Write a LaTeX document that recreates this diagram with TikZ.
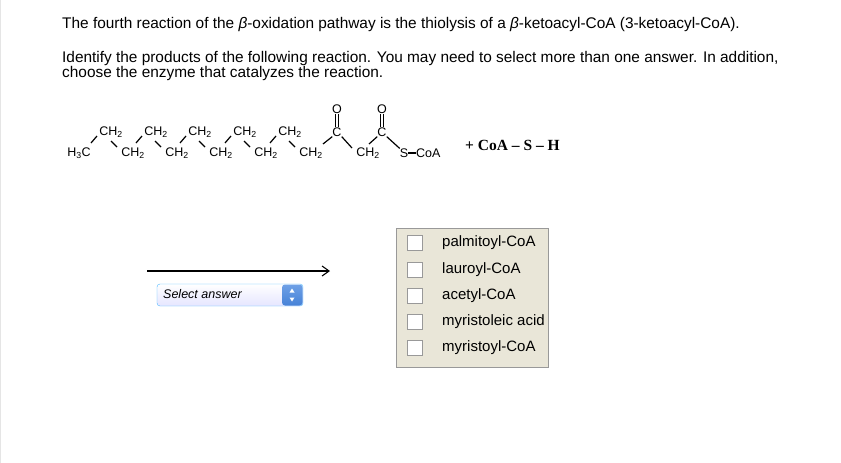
\documentclass[tikz,border=0pt]{standalone}
\usepackage{fontspec}
\usetikzlibrary{arrows.meta}
\setmainfont{Liberation Sans}
\newfontfamily\serifb{Liberation Serif}
\begin{document}
\begin{tikzpicture}[x=1pt,y=-1pt,
  txt/.style={anchor=base west,inner sep=0pt,font=\fontsize{15.4}{17}\selectfont},
  chem/.style={inner sep=0pt,font=\fontsize{12.5}{13}\selectfont},
  bond/.style={line width=1.2pt},
  cb/.style={draw=gray!80,line width=1.5pt,fill=white,minimum size=15pt,inner sep=0pt},
  opt/.style={anchor=west,inner sep=0pt,font=\fontsize{15}{17}\selectfont}]
\useasboundingbox (0,0) rectangle (841,463);
\draw[gray!20] (0.5,0) -- (0.5,463);
\node[txt] (t1) at (62,28) {The fourth reaction of the \textit{β}-oxidation pathway is the thiolysis of a \textit{β}-ketoacyl-CoA (3-ketoacyl-CoA).};
\node[txt] (t2) at (62,62) {Identify the products of the following reaction. You may need to select more than one answer. In addition,};
\node[txt] (t3) at (62,77) {choose the enzyme that catalyzes the reaction.};
% structure
\node[chem] (h3c) at (79,153) {H\textsubscript{3}C};
\foreach \i/\x in {1/111,2/156,3/200,4/245,5/290}{
  \node[chem] (u\i) at (\x,132) {CH\textsubscript{2}};
  \draw[bond] (\x-20,143) -- (\x-14,136);}
\foreach \i/\x in {1/133,2/177,3/221,4/266,5/311}{
  \node[chem] (d\i) at (\x,153) {CH\textsubscript{2}};
  \draw[bond] (\x-22,141) -- (\x-16,147);}
\node[chem] (d6) at (368,153) {CH\textsubscript{2}};
\node[chem] (c1) at (337,132) {C};
\node[chem] (c2) at (382,132) {C};
\node[chem] (o1) at (337,109) {O};
\node[chem] (o2) at (382,109) {O};
\node[chem] (s) at (404,153) {S};
\node[chem,anchor=west] (coa) at (416,153) {CoA};
\draw[bond] (323,144) -- (c1.south west);
\draw[bond] (c1.south east) -- (352,148);
\draw[bond] (369,144) -- (c2.south west);
\draw[bond] (c2.south east) -- (s.north west);
\draw[bond] (s.east) -- (coa.west);
\draw[line width=1pt] ([xshift=-1.6pt]o1.south) -- ([xshift=-1.6pt]c1.north) ([xshift=1.6pt]o1.south) -- ([xshift=1.6pt]c1.north);
\draw[line width=1pt] ([xshift=-1.6pt]o2.south) -- ([xshift=-1.6pt]c2.north) ([xshift=1.6pt]o2.south) -- ([xshift=1.6pt]c2.north);
\node[anchor=west,inner sep=0pt,font=\serifb\bfseries\fontsize{15.5}{17}\selectfont] (plus) at (465,145) {+ CoA – S – H};
% arrow
\coordinate (a1) at (147,271);
\coordinate (a2) at (330,271);
\draw[line width=1.1pt,-{Straight Barb[length=7pt,width=10pt]}] (a1) -- (a2);
% select
\shade[top color=white,bottom color=blue!10,draw=blue!40!cyan!70,rounded corners=3pt] (157,284) rectangle (303,306);
\shade[top color={rgb,255:red,110;green,160;blue,230},bottom color={rgb,255:red,70;green,130;blue,215},rounded corners=3pt] (282,284.5) rectangle (302.5,305.5);
\fill[white] (289.5,292.5) -- (294.5,292.5) -- (292,288.5) -- cycle;
\fill[white] (289.5,297.5) -- (294.5,297.5) -- (292,301.5) -- cycle;
\node[anchor=west,inner sep=0pt,font=\itshape\fontsize{12.5}{14}\selectfont] (sel) at (163,294) {Select answer};
% panel
\node[draw=gray!80,line width=1.2pt,fill={rgb,255:red,233;green,230;blue,216},minimum width=152pt,minimum height=139pt,anchor=north west,inner sep=0pt] (panel) at (396,228) {};
\foreach \i/\y/\t in {1/243/palmitoyl-CoA,2/270/lauroyl-CoA,3/296/acetyl-CoA,4/322/myristoleic acid,5/348/myristoyl-CoA}{
  \node[cb] (b\i) at (415,\y) {};
  \node[opt] (l\i) at (442,\y) {\t};}
\end{tikzpicture}
\end{document}
